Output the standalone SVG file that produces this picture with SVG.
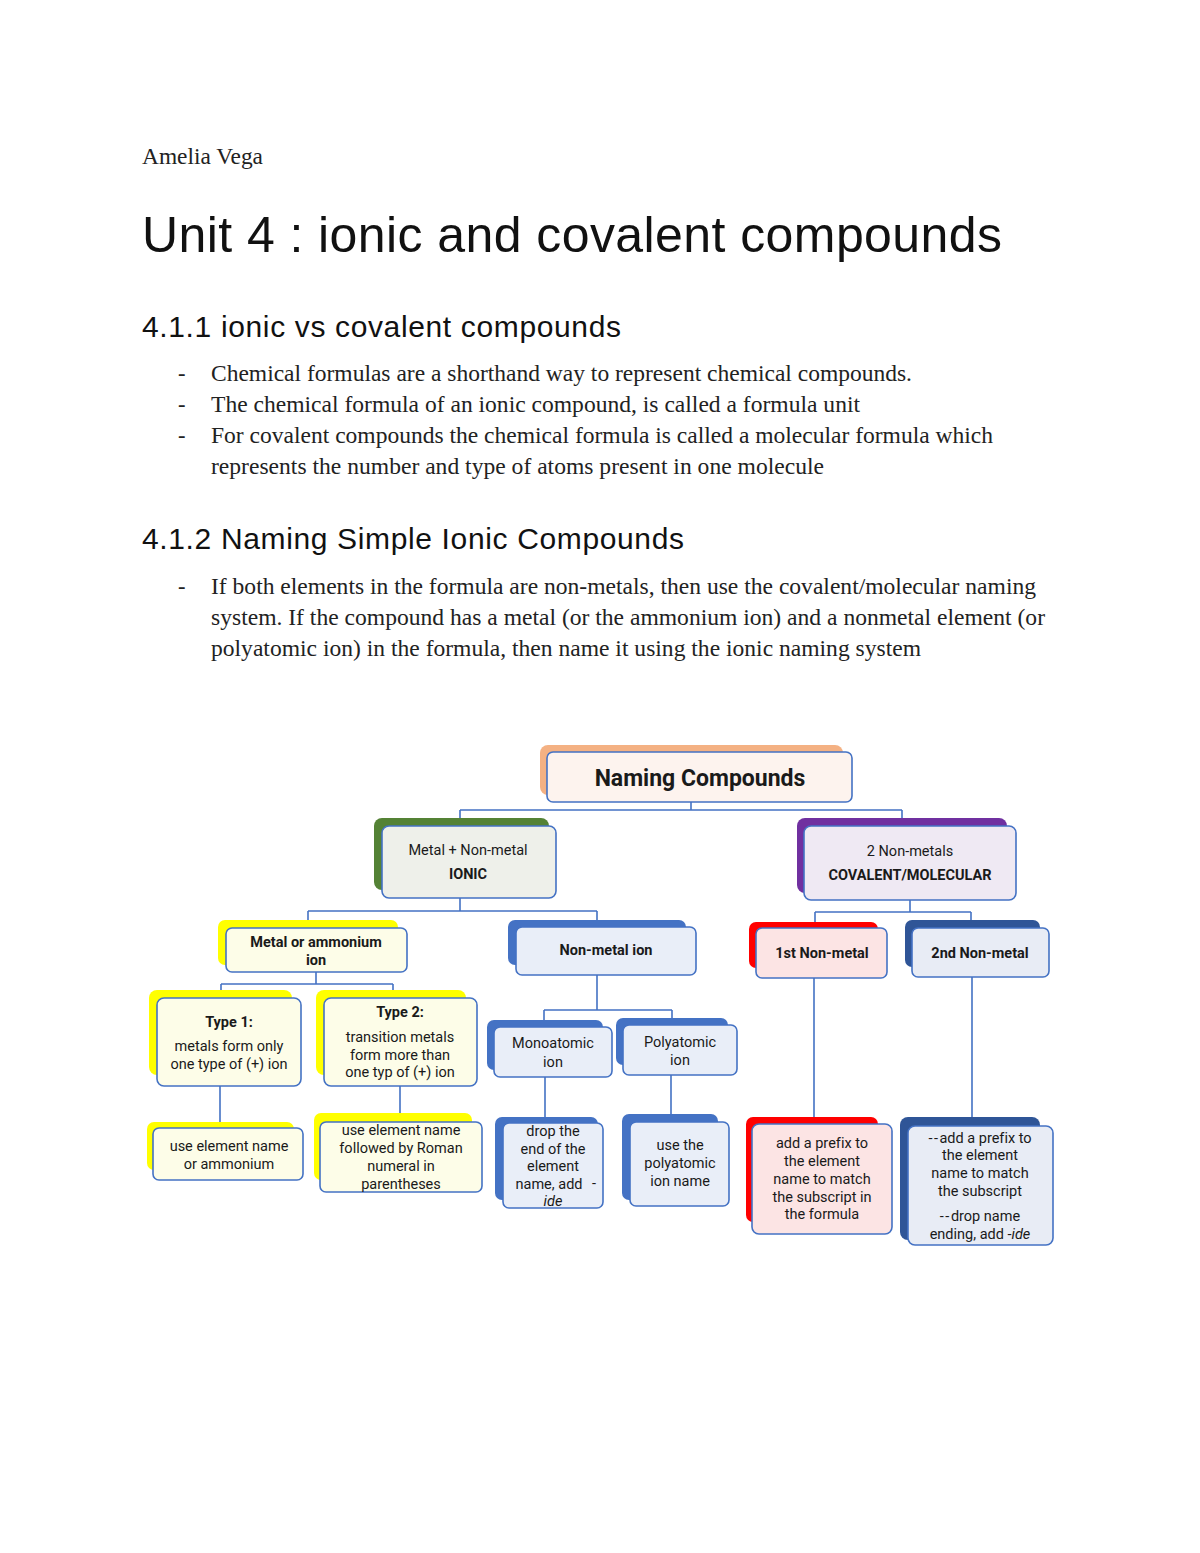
<svg xmlns="http://www.w3.org/2000/svg" width="1200" height="1553" viewBox="0 0 1200 1553">
<style>
.bg{fill:#ffffff}
.serif{font-family:"Liberation Serif","Times New Roman",serif;font-size:22.5px;fill:#222}
.h{font-family:"Liberation Sans",Arial,sans-serif;fill:#111}
.box{stroke:#4472c4;stroke-width:1.6}
.t{font-family:Roboto,"DejaVu Sans Condensed","Liberation Sans",sans-serif;font-size:14.5px;fill:#1a1a1a;text-anchor:middle;font-variant-ligatures:none;font-feature-settings:"liga" 0,"clig" 0,"calt" 0}
.b{font-weight:bold}
.big{font-size:23px}
.dd{letter-spacing:1.5px}
.conn{fill:none;stroke:#4472c4;stroke-width:1.6}
</style>
<rect class="bg" x="0" y="0" width="1200" height="1553"/>
<g id="page-text">
<text class="serif" x="142" y="164" textLength="121" lengthAdjust="spacingAndGlyphs">Amelia Vega</text>
<text class="h" x="142" y="252" font-size="50" textLength="860">Unit 4 : ionic and covalent compounds</text>
<text class="h" x="142" y="337" font-size="30" textLength="479">4.1.1 ionic vs covalent compounds</text>
<text class="serif" x="178" y="381">-</text>
<text class="serif" x="211" y="381" textLength="701" lengthAdjust="spacingAndGlyphs">Chemical formulas are a shorthand way to represent chemical compounds.</text>
<text class="serif" x="178" y="412">-</text>
<text class="serif" x="211" y="412" textLength="649" lengthAdjust="spacingAndGlyphs">The chemical formula of an ionic compound, is called a formula unit</text>
<text class="serif" x="178" y="443">-</text>
<text class="serif" x="211" y="443" textLength="782" lengthAdjust="spacingAndGlyphs">For covalent compounds the chemical formula is called a molecular formula which</text>
<text class="serif" x="211" y="474" textLength="613" lengthAdjust="spacingAndGlyphs">represents the number and type of atoms present in one molecule</text>
<text class="h" x="142" y="549" font-size="30" textLength="542">4.1.2 Naming Simple Ionic Compounds</text>
<text class="serif" x="178" y="594">-</text>
<text class="serif" x="211" y="594" textLength="825" lengthAdjust="spacingAndGlyphs">If both elements in the formula are non-metals, then use the covalent/molecular naming</text>
<text class="serif" x="211" y="625" textLength="834" lengthAdjust="spacingAndGlyphs">system. If the compound has a metal (or the ammonium ion) and a nonmetal element (or</text>
<text class="serif" x="211" y="656" textLength="710" lengthAdjust="spacingAndGlyphs">polyatomic ion) in the formula, then name it using the ionic naming system</text>
</g>
<g id="connectors">
<path class="conn" d="M691 802V810M460 810H902M460 810V826M902 810V826"/>
<path class="conn" d="M460 898V911M308 911H597M308 911V928M597 911V927"/>
<path class="conn" d="M316 972V984M221 984H393M221 984V998M393 984V998"/>
<path class="conn" d="M220 1086V1128M400 1086V1122"/>
<path class="conn" d="M597 975V1010M544 1010H672M544 1010V1027M672 1010V1025"/>
<path class="conn" d="M545 1077V1123M671 1075V1122"/>
<path class="conn" d="M910 900V912M815 912H971M815 912V928M971 912V928"/>
<path class="conn" d="M814 978V1124M972 977V1126"/>
</g>
<g id="naming-compounds">
<rect x="540" y="745" width="303" height="50" rx="8" fill="#f4b183"/>
<rect class="box" x="547" y="752" width="305" height="50" rx="6" fill="#fdf3ee"/>
<text class="t b big" x="700" y="786">Naming Compounds</text>
</g>
<g id="ionic">
<rect x="374" y="818" width="175" height="72" rx="8" fill="#548235"/>
<rect class="box" x="382" y="826" width="174" height="72" rx="7" fill="#eef0ea"/>
<text class="t" x="468" y="855">Metal + Non-metal</text>
<text class="t b" x="468" y="879">IONIC</text>
</g>
<g id="covalent">
<rect x="797" y="818" width="210" height="75" rx="8" fill="#7030a0"/>
<rect class="box" x="804" y="826" width="212" height="74" rx="7" fill="#efe9f3"/>
<text class="t" x="910" y="856">2 Non-metals</text>
<text class="t b" x="910" y="880">COVALENT/MOLECULAR</text>
</g>
<g id="metal-ammonium">
<rect x="218" y="920" width="180" height="45" rx="7" fill="#ffff00"/>
<rect class="box" x="226" y="928" width="181" height="44" rx="6" fill="#fdfde8"/>
<text class="t b" x="316" y="947">Metal or ammonium</text>
<text class="t b" x="316" y="965">ion</text>
</g>
<g id="type1">
<rect x="149" y="990" width="143" height="85" rx="8" fill="#ffff00"/>
<rect class="box" x="157" y="998" width="144" height="88" rx="7" fill="#fdfde8"/>
<text class="t b" x="229" y="1027">Type 1:</text>
<text class="t" x="229" y="1051">metals form only</text>
<text class="t" x="229" y="1069">one type of (+) ion</text>
</g>
<g id="type2">
<rect x="316" y="990" width="150" height="85" rx="8" fill="#ffff00"/>
<rect class="box" x="324" y="998" width="153" height="88" rx="7" fill="#fdfde8"/>
<text class="t b" x="400" y="1017">Type 2:</text>
<text class="t" x="400" y="1042">transition metals</text>
<text class="t" x="400" y="1060">form more than</text>
<text class="t" x="400" y="1077">one typ of (+) ion</text>
</g>
<g id="type1-rule">
<rect x="147" y="1122" width="147" height="48" rx="7" fill="#ffff00"/>
<rect class="box" x="153" y="1128" width="150" height="52" rx="6" fill="#fdfde8"/>
<text class="t" x="229" y="1151">use element name</text>
<text class="t" x="229" y="1169">or ammonium</text>
</g>
<g id="type2-rule">
<rect x="314" y="1113" width="158" height="67" rx="7" fill="#ffff00"/>
<rect class="box" x="320" y="1122" width="162" height="70" rx="6" fill="#fdfde8"/>
<text class="t" x="401" y="1135">use element name</text>
<text class="t" x="401" y="1153">followed by Roman</text>
<text class="t" x="401" y="1171">numeral in</text>
<text class="t" x="401" y="1189">parentheses</text>
</g>
<g id="non-metal-ion">
<rect x="508" y="920" width="178" height="45" rx="7" fill="#4472c4"/>
<rect class="box" x="516" y="927" width="180" height="48" rx="6" fill="#e9eef8"/>
<text class="t b" x="606" y="955">Non-metal ion</text>
</g>
<g id="monoatomic">
<rect x="487" y="1020" width="116" height="50" rx="7" fill="#4472c4"/>
<rect class="box" x="494" y="1027" width="118" height="50" rx="6" fill="#e9eef8"/>
<text class="t" x="553" y="1048">Monoatomic</text>
<text class="t" x="553" y="1067">ion</text>
</g>
<g id="polyatomic">
<rect x="616" y="1018" width="112" height="47" rx="7" fill="#4472c4"/>
<rect class="box" x="623" y="1025" width="114" height="50" rx="6" fill="#e9eef8"/>
<text class="t" x="680" y="1047">Polyatomic</text>
<text class="t" x="680" y="1065">ion</text>
</g>
<g id="monoatomic-rule">
<rect x="495" y="1117" width="103" height="83" rx="7" fill="#4472c4"/>
<rect class="box" x="503" y="1123" width="100" height="85" rx="6" fill="#e9eef8"/>
<text class="t" x="553" y="1136">drop the</text>
<text class="t" x="553" y="1154">end of the</text>
<text class="t" x="553" y="1171">element</text>
<text class="t" x="549" y="1189">name, add</text>
<text class="t" x="594" y="1188">-</text>
<text class="t" x="553" y="1206" font-style="italic">ide</text>
</g>
<g id="polyatomic-rule">
<rect x="622" y="1114" width="96" height="86" rx="7" fill="#4472c4"/>
<rect class="box" x="630" y="1122" width="99" height="84" rx="6" fill="#e9eef8"/>
<text class="t" x="680" y="1150">use the</text>
<text class="t" x="680" y="1168">polyatomic</text>
<text class="t" x="680" y="1186">ion name</text>
</g>
<g id="first-non-metal">
<rect x="749" y="922" width="129" height="46" rx="7" fill="#ff0000"/>
<rect class="box" x="756" y="928" width="131" height="50" rx="6" fill="#fce4e4"/>
<text class="t b" x="822" y="958">1st Non-metal</text>
</g>
<g id="second-non-metal">
<rect x="905" y="920" width="135" height="47" rx="7" fill="#2f5597"/>
<rect class="box" x="912" y="928" width="137" height="49" rx="6" fill="#e8ecf5"/>
<text class="t b" x="980" y="958">2nd Non-metal</text>
</g>
<g id="first-rule">
<rect x="746" y="1117" width="132" height="105" rx="7" fill="#ff0000"/>
<rect class="box" x="752" y="1124" width="140" height="110" rx="7" fill="#fce4e4"/>
<text class="t" x="822" y="1148">add a prefix to</text>
<text class="t" x="822" y="1166">the element</text>
<text class="t" x="822" y="1184">name to match</text>
<text class="t" x="822" y="1202">the subscript in</text>
<text class="t" x="822" y="1219">the formula</text>
</g>
<g id="second-rule">
<rect x="900" y="1117" width="140" height="123" rx="8" fill="#2f5597"/>
<rect class="box" x="908" y="1126" width="145" height="119" rx="7" fill="#e8ecf5"/>
<text class="t" x="980" y="1143"><tspan class="dd">--</tspan>add a prefix to</text>
<text class="t" x="980" y="1160">the element</text>
<text class="t" x="980" y="1178">name to match</text>
<text class="t" x="980" y="1196">the subscript</text>
<text class="t" x="980" y="1221"><tspan class="dd">--</tspan>drop name</text>
<text class="t" x="980" y="1239">ending, add -<tspan font-style="italic">ide</tspan></text>
</g>
</svg>
